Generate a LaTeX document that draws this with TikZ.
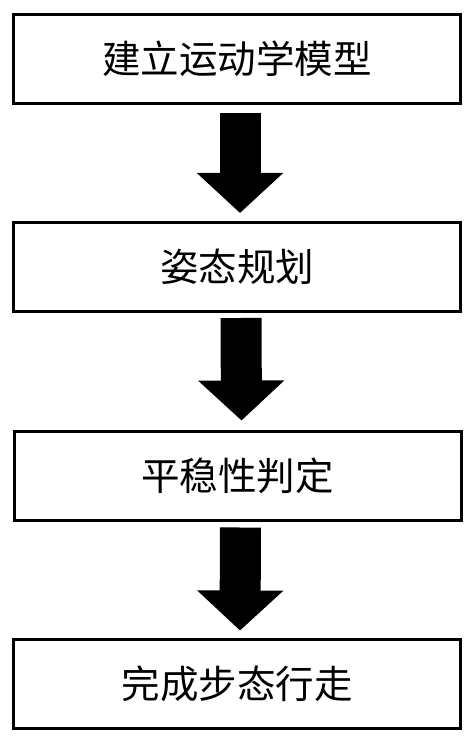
\documentclass[tikz,border=0pt]{standalone}
\usepackage{fontspec}
\newfontfamily\cjk{Noto Sans CJK SC}
\usetikzlibrary{arrows.meta}

\begin{document}
\begin{tikzpicture}[x=1pt, y=-1pt,
	stepbox/.style={draw, line width=3pt, minimum width=447pt, minimum height=89pt, font=\cjk\fontsize{38.5}{40}\selectfont},
	bigarrow/.style={line width=41pt, -{Triangle[width=84pt, length=40pt]}}]
	\useasboundingbox (0,0) rectangle (474,743);
	\node[stepbox] (model) at (237,59) {建立运动学模型};
	\node[stepbox] (pose) at (237,267) {姿态规划};
	\node[stepbox] (stable) at (237.5,475.5) {平稳性判定};
	\node[stepbox] (walk) at (237,683.5) {完成步态行走};
	\draw[bigarrow] ([xshift=3pt, yshift=-8pt]model.south) -- ([xshift=3pt, yshift=8pt]pose.north);
	\draw[bigarrow] ([xshift=4pt, yshift=-5pt]pose.south) -- ([xshift=4pt, yshift=9pt]stable.north);
	\draw[bigarrow] ([xshift=3pt, yshift=-6pt]stable.south) -- ([xshift=3pt, yshift=7pt]walk.north);
\end{tikzpicture}
\end{document}
